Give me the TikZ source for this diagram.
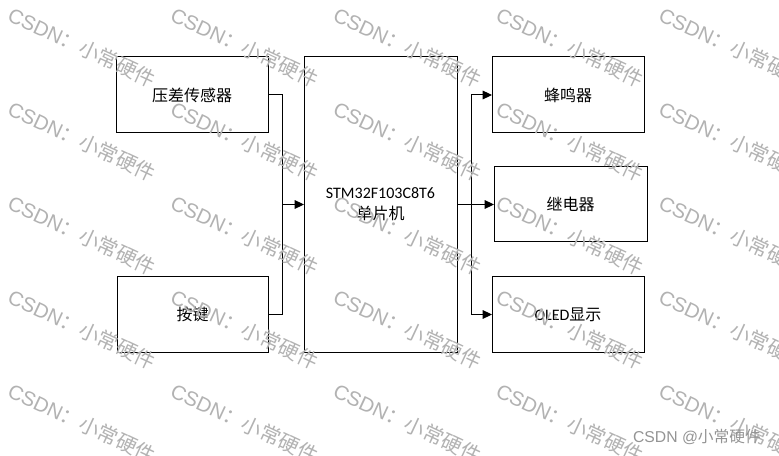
\documentclass[tikz,border=0pt]{standalone}
\usepackage{fontspec}
\setmainfont{Carlito}
\newfontfamily\cjk{Noto Sans CJK SC}
\newfontfamily\wmsans{Liberation Sans}
\usetikzlibrary{arrows.meta}
\begin{document}
\begin{tikzpicture}[x=0.75pt,y=-0.75pt,
  box/.style={draw=black,line width=0.75pt,fill=white,inner sep=0pt,outer sep=0pt,
    font=\fontsize{12pt}{15pt}\selectfont,align=center},
  conn/.style={draw=black,line width=0.75pt},
  arr/.style={conn,-{Triangle[length=7pt,width=6.5pt]}},
  wm/.style={text=black!30,rotate=-25,font=\fontsize{15.3pt}{15pt}\selectfont,inner sep=0pt},
  credit/.style={text=black!42,font=\fontsize{11.8pt}{13pt}\selectfont,inner sep=0pt}]
\useasboundingbox (0,0) rectangle (779,456);
\fill[white] (0,0) rectangle (779,456);

\node[box,minimum width=152*0.75pt,minimum height=76*0.75pt] (s) at (192,95) {{\cjk 压差传感器}};
\node[box,minimum width=151*0.75pt,minimum height=75*0.75pt] (k) at (192.5,314.5) {{\cjk 按键}};
\node[box,minimum width=153*0.75pt,minimum height=295*0.75pt] (mcu) at (380.5,204.5) {};
\node[font=\fontsize{12pt}{15pt}\selectfont,inner sep=0pt] (mcut) at (380.5,193) {STM32F103C8T6};
\node[font=\fontsize{12pt}{15pt}\selectfont,inner sep=0pt] (mcuc) at (380.5,213) {{\cjk 单片机}};
\node[box,minimum width=152*0.75pt,minimum height=76*0.75pt] (b) at (568,95) {{\cjk 蜂鸣器}};
\node[box,minimum width=153*0.75pt,minimum height=75*0.75pt] (r) at (570.5,204.5) {{\cjk 继电器}};
\node[box,minimum width=152*0.75pt,minimum height=75*0.75pt] (o) at (568,314.5) {OLED{\cjk 显示}};

\coordinate (jl) at (282,204.5);
\coordinate (jr) at (471,204.5);
\draw[conn] (s.east) -| (jl);
\draw[conn] (k.east) -| (jl);
\draw[arr] (jl) -- (mcu.west);
\draw[conn] (mcu.east) -- (jr);
\draw[arr] (jr) |- (b.west);
\draw[arr] (jr) -- (r.west);
\draw[arr] (jr) |- (o.west);

\begin{scope}
\clip (0,0) rectangle (779,456);
\foreach \i in {0,...,4}{
  \foreach \j in {0,...,4}{
    \node[wm] (wm-\i-\j) at ({82+162.75*\i},{47+94*\j}) {{\wmsans CSDN}{\cjk ：小常硬件}};
  }
}
\end{scope}
\node[credit] (cr) at (697,437) {{\wmsans CSDN @}{\cjk 小常硬件}};
\end{tikzpicture}
\end{document}
